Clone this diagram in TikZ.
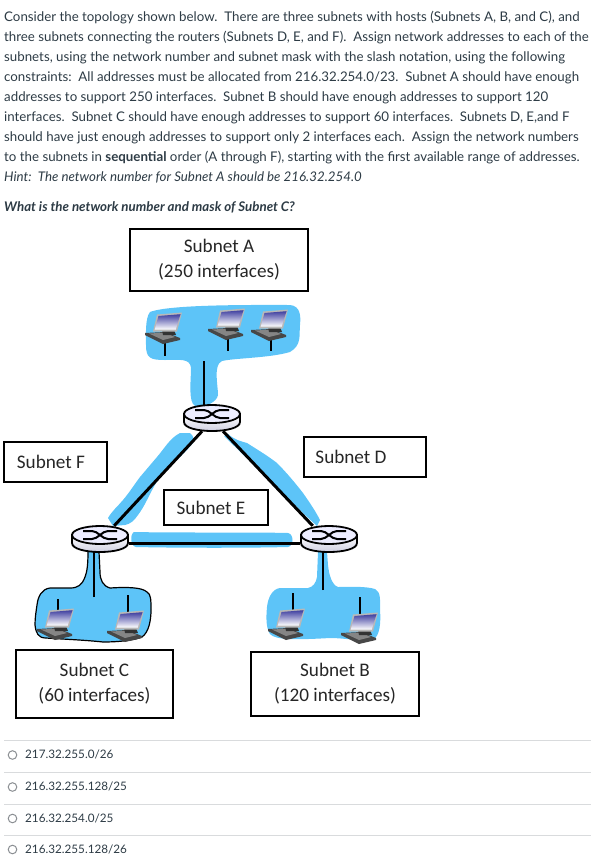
\documentclass[tikz,border=0pt]{standalone}
\usepackage{fontspec}
\setmainfont{Lato}
\newfontfamily\boxfont{Carlito}
\definecolor{canvas}{HTML}{2D3B45}
\definecolor{lanblue}{HTML}{5DC4F8}
\definecolor{sepgray}{HTML}{D9DBDD}
\definecolor{radiogray}{HTML}{8B8F93}
\definecolor{screentop}{HTML}{3F3FA0}
\tikzset{
  x=1pt,y=-1pt,
  para/.style={anchor=base west,inner sep=0pt,text=canvas,font=\fontsize{13.3}{16}\selectfont},
  opt/.style={anchor=base west,inner sep=0pt,text=canvas,font=\fontsize{11.7}{16}\selectfont},
  sep/.style={draw=sepgray,line width=1pt},
  radio/.style={circle,draw=radiogray,line width=1pt,minimum size=8.6pt,inner sep=0pt},
  subnetbox/.style={draw=black,line width=1.5pt,inner sep=0pt,align=center,font=\boxfont\fontsize{19.2}{25}\selectfont,text=black!85},
  routerbox/.style={minimum width=58pt,minimum height=26pt,inner sep=0pt},
  blob/.style={fill=lanblue,draw=none},
  stem/.style={draw=black,line width=1.5pt},
  link/.style={draw=black,line width=3pt},
  pics/host/.style={code={
    \fill[black!72] (-20,-9) -- (0,-10) -- (15,-4) -- (15,-2) -- (-2,2) -- (-20,-7) -- cycle;
    \fill[black!48] (-16,-8.5) -- (0,-9.3) -- (10,-5) -- (-2,-2) -- cycle;
    \fill[black!80] (-3,-12) -- (9,-12) -- (11,-7) -- (-2,-7) -- cycle;
    \fill[black!28] (-8,-27.5) -- (17,-29.5) -- (12,-10.5) -- (-12,-10.5) -- cycle;
    \shade[top color=screentop,bottom color=white] (-6.5,-26) -- (15.5,-27.8) -- (10.8,-12.5) -- (-10.3,-12.5) -- cycle;
  }}
}
\newcommand{\routerart}[1]{%
  \begin{scope}[shift={(#1.center)}]
    \shade[draw=black,line width=1.8pt,top color=white,bottom color=blue!25!gray!35]
      (-28,-4) -- (-28,4) .. controls (-28,16) and (28,16) .. (28,4) -- (28,-4) -- cycle;
    \draw[black,line width=1.8pt,fill=blue!7!white] (0,-4) ellipse [x radius=28pt,y radius=9pt];
    \draw[black,line width=2pt] (-17,-8) -- (-8,-8) .. controls (-2,-8) and (2,0) .. (8,0) -- (17,0);
    \draw[black,line width=2pt] (-17,0) -- (-8,0) .. controls (-2,0) and (2,-8) .. (8,-8) -- (17,-8);
  \end{scope}}
\begin{document}
\begin{tikzpicture}
\useasboundingbox (0,0) rectangle (591,864);
% question text
\node[para] (l1) at (4,21.5) {Consider the topology shown below.\ \ There are three subnets with hosts (Subnets A, B, and C), and};
\node[para] (l2) at (4,41.5) {three subnets connecting the routers (Subnets D, E, and F).\ \ Assign network addresses to each of the};
\node[para] (l3) at (4,61.5) {subnets, using the network number and subnet mask with the slash notation, using the following};
\node[para] (l4) at (4,81.5) {constraints:\ \ All addresses must be allocated from 216.32.254.0/23.\ \ Subnet A should have enough};
\node[para] (l5) at (4,101.5) {addresses to support 250 interfaces.\ \ Subnet B should have enough addresses to support 120};
\node[para] (l6) at (4,121.5) {interfaces.\ \ Subnet C should have enough addresses to support 60 interfaces.\ \ Subnets D, E,and F};
\node[para] (l7) at (4,141.5) {should have just enough addresses to support only 2 interfaces each.\ \ Assign the network numbers};
\node[para] (l8) at (4,161.5) {to the subnets in \textbf{sequential} order (A through F), starting with the first available range of addresses.};
\node[para] (l9) at (4,181.5) {\textit{Hint:\ \ The network number for Subnet A should be 216.32.254.0}};
\node[para] (q) at (4,211) {\textbf{\textit{What is the network number and mask of Subnet C?}}};
% LAN blobs
\fill[blob] (150,312) .. controls (170,304) and (260,305) .. (290,305)
  .. controls (300,306) and (301,315) .. (300,325) .. controls (299,335) and (302,345) .. (290,352)
  .. controls (270,358) and (235,358) .. (222,361) .. controls (213,365) and (218,385) .. (218,395)
  .. controls (217,402) and (205,408) .. (195,406) .. controls (188,402) and (191,380) .. (191,368)
  .. controls (190,358) and (180,360) .. (165,360) .. controls (150,360) and (146,358) .. (146,345)
  .. controls (146,335) and (145,318) .. (150,312) -- cycle;
\fill[blob] (180,433) -- (190,433) .. controls (194,436) and (194,440) .. (193,443)
  .. controls (188,449) and (184,453) .. (180,457) .. controls (172,464) and (166,470) .. (160,477)
  .. controls (155,484) and (151,492) .. (147,500) .. controls (144,506) and (141,511) .. (138,515)
  .. controls (134,521) and (130,524) .. (125,525) -- (113,526) -- (108,518)
  .. controls (112,511) and (118,506) .. (123,500) .. controls (129,493) and (134,485) .. (140,477)
  .. controls (146,470) and (151,464) .. (157,457) .. controls (164,449) and (170,438) .. (180,433) -- cycle;
\fill[blob] (228,434) .. controls (235,440) and (240,441) .. (247,443)
  .. controls (258,450) and (268,456) .. (277,463) .. controls (287,473) and (296,484) .. (303,493)
  .. controls (310,503) and (316,512) .. (320,520) -- (317,526) -- (305,515) -- (224,436) -- cycle;
\fill[blob] (134,532) .. controls (180,533) and (250,532) .. (288,533)
  .. controls (294,534) and (294,546) .. (288,547) .. controls (250,548) and (180,548) .. (136,547)
  .. controls (130,546) and (130,534) .. (134,532) -- cycle;
\fill[blob] (318,552) -- (317,577) .. controls (316,583) and (313,587) .. (308,588)
  -- (280,588) .. controls (272,589) and (268,598) .. (267,607) .. controls (266,618) and (266,628) .. (270,634)
  .. controls (275,640) and (295,640) .. (330,638) .. controls (345,638) and (365,642) .. (373,640)
  .. controls (380,636) and (381,622) .. (380,610) .. controls (380,600) and (381,592) .. (375,589)
  .. controls (365,586) and (350,587) .. (338,587) .. controls (332,585) and (329,575) .. (328,565) -- (327,552) -- cycle;
\filldraw[fill=lanblue,draw=black,line width=1.2pt] (88,552) .. controls (88,565) and (87,572) .. (85,577)
  .. controls (82,585) and (78,588) .. (70,588) -- (50,588) .. controls (42,589) and (38,596) .. (37,605)
  .. controls (36,612) and (35,618) .. (35,625) .. controls (36,633) and (38,638) .. (46,638)
  .. controls (60,639) and (85,640) .. (103,642) .. controls (120,642) and (135,640) .. (142,637)
  .. controls (149,632) and (151,620) .. (151,610) .. controls (151,600) and (151,594) .. (147,592)
  .. controls (142,587) and (125,587) .. (110,588) .. controls (103,586) and (100,580) .. (100,572) -- (99,552);
% routers (named)
\node[routerbox] (rA) at (212,418) {};
\node[routerbox] (rF) at (100,539) {};
\node[routerbox] (rD) at (329,539) {};
% router links
\draw[link] (rA.-127) -- (rF.43);
\draw[link] (rA.-50) -- (rD.141);
\draw[link] (rF.-8) -- (rD.188);
% stems
\coordinate (sA) at (204,361);
\coordinate (sF) at (94,597);
\coordinate (sD) at (323,590);
\draw[stem] (sA) -- (204,405);
\draw[stem] (sF) -- (94,551);
\draw[stem] (sD) -- (323,551);
% routers art
\routerart{rA}
\routerart{rF}
\routerart{rD}
% hosts and their stems
\coordinate (hA1) at (165,342); \coordinate (eA1) at (165,356);
\coordinate (hA2) at (228,338); \coordinate (eA2) at (228,351);
\coordinate (hA3) at (271,339); \coordinate (eA3) at (271,351);
\draw[stem] (hA1) -- (eA1);
\draw[stem] (hA2) -- (eA2);
\draw[stem] (hA3) -- (eA3);
\pic at (hA1) {host};
\pic at (hA2) {host};
\pic at (hA3) {host};
\coordinate (hC1) at (57,638); \coordinate (eC1) at (58,599);
\coordinate (hC2) at (127,640); \coordinate (eC2) at (128,595);
\coordinate (hB1) at (288,638); \coordinate (eB1) at (293,593);
\coordinate (hB2) at (361,642); \coordinate (eB2) at (360,597);
\draw[stem] (eC1) -- (58,611);
\draw[stem] (eC2) -- (128,612);
\draw[stem] (eB1) -- (293,610);
\draw[stem] (eB2) -- (360,614);
\pic at (hC1) {host};
\pic at (hC2) {host};
\pic at (hB1) {host};
\pic at (hB2) {host};
% subnet labels
\node[subnetbox,minimum width=178pt,minimum height=62pt] (bA) at (219,260) {\raisebox{-1.5pt}{Subnet A}\\\raisebox{-1.5pt}{(250 interfaces)}};
\node[subnetbox,minimum width=103pt,minimum height=40pt] (bF) at (55.5,462) {Subnet F\hspace*{9pt}};
\node[subnetbox,minimum width=122pt,minimum height=40pt] (bD) at (365,457) {\raisebox{1pt}{Subnet D}\hspace*{28pt}};
\node[subnetbox,minimum width=104pt,minimum height=35pt] (bE) at (216,507.5) {Subnet E\hspace*{10pt}};
\node[subnetbox,minimum width=157pt,minimum height=68pt] (bC) at (94.5,684) {\raisebox{1pt}{Subnet C}\\\raisebox{1pt}{(60 interfaces)}};
\node[subnetbox,minimum width=168pt,minimum height=64pt] (bB) at (335,684) {\raisebox{-.8pt}{Subnet B}\\\raisebox{-.8pt}{(120 interfaces)}};
% answers
\coordinate (s1a) at (4,740); \coordinate (s1b) at (591,740);
\coordinate (s2a) at (4,772); \coordinate (s2b) at (591,772);
\coordinate (s3a) at (4,804); \coordinate (s3b) at (591,804);
\coordinate (s4a) at (4,835); \coordinate (s4b) at (591,835);
\draw[sep] (s1a) -- (s1b);
\draw[sep] (s2a) -- (s2b);
\draw[sep] (s3a) -- (s3b);
\draw[sep] (s4a) -- (s4b);
\node[radio] (r1) at (12.5,755) {};
\node[radio] (r2) at (12.5,787) {};
\node[radio] (r3) at (12.5,818.5) {};
\node[radio] (r4) at (12.5,849.5) {};
\node[opt] (o1) at (25,758.5) {217.32.255.0/26};
\node[opt] (o2) at (25,790.5) {216.32.255.128/25};
\node[opt] (o3) at (25,822.5) {216.32.254.0/25};
\node[opt] (o4) at (25,853.5) {216.32.255.128/26};
\end{tikzpicture}
\end{document}
